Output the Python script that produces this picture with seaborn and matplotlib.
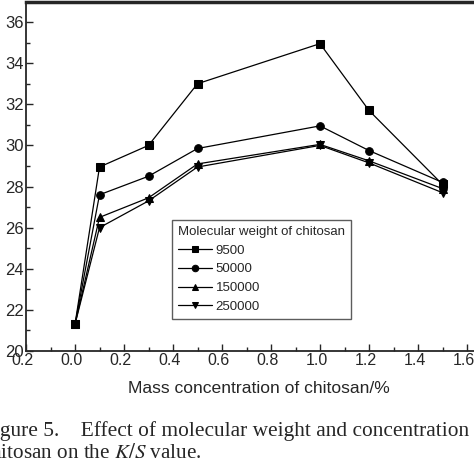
import numpy as np
import pandas as pd
import matplotlib
matplotlib.use("Agg")
import matplotlib.pyplot as plt
import matplotlib.transforms as mtransforms
import seaborn as sns

# --- data ---
conc = [0.0, 0.1, 0.3, 0.5, 1.0, 1.2, 1.5]
ks_9500 = [21.3, 28.95, 30.0, 33.0, 34.95, 31.7, 28.1]
ks_50000 = [21.3, 27.6, 28.5, 29.85, 30.95, 29.75, 28.2]
ks_150000 = [21.3, 26.5, 27.45, 29.1, 30.05, 29.25, 27.9]
ks_250000 = [21.3, 26.0, 27.3, 28.95, 30.0, 29.15, 27.7]
mw_labels = ["9500", "50000", "150000", "250000"]
marker_list = ["s", "o", "^", "v"]

x_ticks = [-0.2, 0.0, 0.2, 0.4, 0.6, 0.8, 1.0, 1.2, 1.4, 1.6]
x_ticklabels = ["0.2", "0.0", "0.2", "0.4", "0.6", "0.8", "1.0", "1.2", "1.4", "1.6"]
y_ticks = [20, 22, 24, 26, 28, 30, 32, 34, 36]

rows = []
for lab, vals in zip(mw_labels, [ks_9500, ks_50000, ks_150000, ks_250000]):
    for c, v in zip(conc, vals):
        rows.append({"conc": c, "ks": v, "mw": lab})
df = pd.DataFrame(rows)

sns.set_style("ticks")
plt.rcParams["font.family"] = ["Liberation Sans", "DejaVu Sans"]
plt.rcParams["mathtext.fontset"] = "stix"

fig = plt.figure(figsize=(4.74, 4.74), dpi=100)
W = H = 474.0
ax = fig.add_axes([26 / W, 123 / H, 465.5 / W, 349.5 / H])

sns.lineplot(data=df, x="conc", y="ks", hue="mw", style="mw",
             hue_order=mw_labels, style_order=mw_labels,
             palette=["black"] * 4, markers=marker_list, dashes=False,
             markersize=5.5, markeredgecolor="black", linewidth=0.9,
             ax=ax, legend=False)

ax.set_xlim(-0.2, 1.7)
ax.set_ylim(20, 37)
ax.set_xticks(x_ticks)
ax.set_xticklabels(x_ticklabels)
ax.set_yticks(y_ticks)
ax.set_xticks(np.arange(-0.1, 1.7, 0.2), minor=True)
ax.set_yticks(np.arange(21, 37, 2), minor=True)
ax.tick_params(which="major", direction="in", length=5, width=1, pad=1.5)
ax.tick_params(axis="x", labelsize=11.5)
ax.tick_params(axis="y", labelsize=12)
ax.tick_params(which="minor", direction="in", length=3, width=1)
# x labels sit a little left of their ticks in the reference
shift = mtransforms.ScaledTranslation(-3.5 / 100, 0, fig.dpi_scale_trans)
for lab in ax.get_xticklabels():
    lab.set_transform(lab.get_transform() + shift)
ax.set_xlabel("Mass concentration of chitosan/%", fontsize=12.6, labelpad=9)
ax.set_ylabel("")
for side in ["left", "bottom"]:
    ax.spines[side].set_linewidth(1.3)
ax.spines["top"].set_linewidth(2.5)
ax.spines["right"].set_visible(False)

# legend built from the drawn lines
handles = ax.get_lines()[:4]
leg = ax.legend(handles, mw_labels, title="Molecular weight of chitosan",
                loc="lower left", bbox_to_anchor=(0.314, 0.0916), borderaxespad=0,
                fontsize=9.5, title_fontsize=9.5, frameon=True, fancybox=False,
                edgecolor="#333333", handlelength=2.55, handletextpad=0.3,
                labelspacing=0.5, borderpad=0.45, markerscale=0.85)
leg.get_frame().set_linewidth(1.0)
leg._legend_box.align = "left"

# caption (cropped in the reference)
fig.text(469 / W, 38 / H, "Figure 5.    Effect of molecular weight and concentration",
         family=["Liberation Serif"], fontsize=15.4, ha="right", va="baseline")
fig.text(202 / W, 16 / H, r"chitosan on the $K/S$ value.",
         family=["Liberation Serif"], fontsize=15.2, ha="right", va="baseline")

fig.savefig("out.png", dpi=100)
